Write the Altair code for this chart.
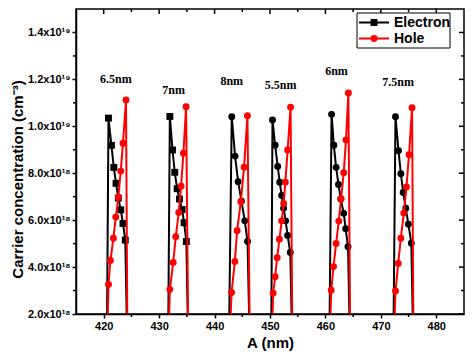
import altair as alt
import pandas as pd

# ---- data (concentration in units of 1e18 cm^-3, position in nm) ----
groups = ["6.5nm", "7nm", "8nm", "5.5nm", "6nm", "7.5nm"]
label_x = [422.2, 432.6, 443.1, 451.9, 462.0, 473.1]
label_y = [12.0, 11.55, 11.93, 11.77, 12.36, 11.87]
edge_left = [420.55, 431.6, 442.55, 450.2, 460.68, 472.23]
edge_right = [424.3, 435.3, 446.4, 454.07, 464.5, 475.9]
edge_value = 0.0
electron_marker = ["square", "square", "circle", "circle", "circle", "circle"]

electron_x = [
    [420.86, 421.39, 421.82, 422.23, 422.64, 423.07, 423.48, 423.89],
    [431.93, 432.41, 432.82, 433.25, 433.66, 434.14, 434.5, 434.91],
    [443.1, 443.7, 444.25, 444.85, 445.45, 445.95],
    [450.45, 450.93, 451.39, 451.75, 452.11, 452.46, 452.82, 453.18, 453.66],
    [461.11, 461.52, 461.93, 462.36, 462.77, 463.3, 463.66, 464.07],
    [472.64, 473.18, 473.61, 474.02, 474.5, 474.96, 475.5],
]
electron_y = [
    [10.35, 9.19, 8.25, 7.57, 6.94, 6.44, 5.86, 5.15],
    [10.42, 8.99, 8.04, 7.34, 6.90, 6.45, 5.89, 5.09],
    [10.41, 8.73, 7.64, 6.81, 5.97, 5.09],
    [10.27, 9.19, 8.29, 7.62, 7.05, 6.51, 5.97, 5.35, 4.62],
    [10.51, 9.19, 8.25, 7.52, 6.90, 6.29, 5.63, 4.87],
    [10.41, 8.96, 7.98, 7.18, 6.51, 5.83, 5.02],
]
hole_x = [
    [420.86, 421.21, 421.75, 422.18, 422.64, 423.07, 423.48, 424.02],
    [431.93, 432.54, 433.0, 433.54, 433.96, 434.38, 434.86],
    [443.07, 443.66, 444.07, 444.73, 445.32, 445.93],
    [450.57, 450.93, 451.29, 451.70, 452.11, 452.46, 452.77, 453.18, 453.71],
    [461.04, 461.46, 461.93, 462.41, 462.82, 463.3, 463.71, 464.14],
    [472.64, 473.13, 473.61, 474.14, 474.61, 475.09, 475.63],
]
hole_y = [
    [3.26, 4.28, 5.23, 6.13, 6.98, 8.09, 9.28, 11.12],
    [3.05, 4.20, 5.29, 6.33, 7.45, 8.85, 10.83],
    [2.92, 4.24, 5.55, 6.78, 8.26, 10.45],
    [2.89, 3.59, 4.40, 5.19, 5.97, 6.71, 7.62, 8.99, 10.81],
    [3.01, 4.02, 5.01, 5.96, 6.91, 8.02, 9.42, 11.42],
    [2.98, 4.15, 5.23, 6.30, 7.41, 8.79, 10.79],
]

x_major = [420, 430, 440, 450, 460, 470, 480]
x_minor = [425, 435, 445, 455, 465, 475]
y_major = [2, 4, 6, 8, 10, 12, 14]
y_minor = [3, 5, 7, 9, 11, 13]
legend_labels = ["Electron", "Hole"]

# ---- build tables ----
rows = []
for gi, g in enumerate(groups):
    for series, xs_, ys_, mk in [("Electron", electron_x[gi], electron_y[gi], electron_marker[gi]),
                                 ("Hole", hole_x[gi], hole_y[gi], "circle")]:
        rows.append(dict(group=g, series=series, idx=0, x=edge_left[gi], y=edge_value, pt=False, marker=mk))
        for i, (xv, yv) in enumerate(zip(xs_, ys_)):
            rows.append(dict(group=g, series=series, idx=i + 1, x=xv, y=yv, pt=True, marker=mk))
        rows.append(dict(group=g, series=series, idx=len(xs_) + 1, x=edge_right[gi], y=edge_value, pt=False, marker=mk))
df = pd.DataFrame(rows)
labels_df = pd.DataFrame({"label": groups, "x": label_x, "y": label_y})

W, H = 388, 305
SANS = "Liberation Sans, Arial"
SERIF = "Liberation Serif, Times New Roman"
BLACK, RED = "#000000", "#ff0000"

xs = alt.Scale(domain=[415, 485], nice=False, zero=False)
ys = alt.Scale(domain=[2, 15], nice=False, zero=False)

x_axis = alt.Axis(values=x_major, title="A (nm)", labelFont=SANS, labelFontSize=11,
                  labelFontWeight="bold", tickSize=4, labelPadding=2,
                  titleFont=SANS, titleFontSize=15, titleFontWeight="bold",
                  titleY=28, titleBaseline="middle")
y_axis = alt.Axis(values=y_major, title="Carrier concentration (cm⁻³)",
                  labelExpr="datum.value < 10 ? format(datum.value, '.1f') + 'x10¹⁸' : format(datum.value / 10, '.1f') + 'x10¹⁹'",
                  labelFont=SANS, labelFontSize=11, labelFontWeight="bold", tickSize=4, labelPadding=2,
                  titleFont=SANS, titleFontSize=15, titleFontWeight="bold",
                  titleX=-59, titleY=170, titleBaseline="middle", titleAlign="center")


def X(field):
    return alt.X(field, scale=xs, axis=x_axis)


def Y(field):
    return alt.Y(field, scale=ys, axis=y_axis)


base = alt.Chart(df)


def line_layer(series, color):
    return base.transform_filter(alt.datum.series == series).mark_line(
        strokeWidth=2, clip=True, color=color).encode(
        x=X("x:Q"), y=Y("y:Q"), detail="group:N", order="idx:Q")


def point_layer(series, color):
    return base.transform_filter((alt.datum.series == series) & alt.datum.pt).mark_point(
        filled=True, opacity=1, size=48, color=color, clip=True).encode(
        x=X("x:Q"), y=Y("y:Q"),
        shape=alt.Shape("marker:N", scale=alt.Scale(domain=["square", "circle"], range=["square", "circle"]),
                        legend=None))


text_layer = alt.Chart(labels_df).mark_text(font=SERIF, fontSize=12, fontWeight="bold", color="black").encode(
    x=X("x:Q"), y=Y("y:Q"), text="label:N")

# minor / mirrored ticks
xmaj = pd.DataFrame({"x": x_major})
xmin = pd.DataFrame({"x": x_minor})
ymaj = pd.DataFrame({"y": y_major})
ymin = pd.DataFrame({"y": y_minor})
tk = dict(color="black", strokeWidth=1.5)
ticks = [
    alt.Chart(xmin).mark_rule(**tk).encode(x=X("x:Q"), y=alt.value(H), y2=alt.value(H + 3)),
    alt.Chart(ymin).mark_rule(**tk).encode(y=Y("y:Q"), x=alt.value(-3), x2=alt.value(0)),
    alt.Chart(xmaj).mark_rule(**tk).encode(x=X("x:Q"), y=alt.value(0), y2=alt.value(5)),
    alt.Chart(xmin).mark_rule(**tk).encode(x=X("x:Q"), y=alt.value(0), y2=alt.value(3)),
    alt.Chart(ymaj).mark_rule(**tk).encode(y=Y("y:Q"), x=alt.value(W - 5), x2=alt.value(W)),
    alt.Chart(ymin).mark_rule(**tk).encode(y=Y("y:Q"), x=alt.value(W - 3), x2=alt.value(W)),
]

# legend (manual)
leg_df = pd.DataFrame({"label": legend_labels})
leg = [
    alt.Chart(leg_df).transform_filter(alt.datum.label == "Electron").mark_rect(
        fill="white", stroke="black", strokeWidth=1).encode(
        x=alt.value(281), x2=alt.value(374), y=alt.value(4), y2=alt.value(39)),
]
for lab, col, shp, yy in [("Electron", BLACK, "square", 13.5), ("Hole", RED, "circle", 29.5)]:
    sub = alt.Chart(leg_df).transform_filter(alt.datum.label == lab)
    leg.append(sub.mark_rule(color=col, strokeWidth=2).encode(x=alt.value(283), x2=alt.value(313), y=alt.value(yy)))
    leg.append(sub.mark_point(shape=shp, filled=True, opacity=1, color=col, size=48).encode(
        x=alt.value(298), y=alt.value(yy)))
    leg.append(sub.mark_text(align="left", baseline="middle", font=SANS, fontSize=14, fontWeight="bold",
                             color="black").encode(x=alt.value(318), y=alt.value(yy + 0.5), text="label:N"))

chart = alt.layer(
    line_layer("Electron", BLACK),
    point_layer("Electron", BLACK),
    line_layer("Hole", RED),
    point_layer("Hole", RED),
    text_layer,
    *ticks,
    *leg,
).properties(
    width=W, height=H,
    autosize=alt.AutoSizeParams(type="none"),
    padding={"left": 68, "top": 1, "right": 2, "bottom": 38},
    background="white",
).configure_axis(
    grid=False, domainColor="black", domainWidth=1.5, tickColor="black", tickWidth=1.5,
    labelColor="black", titleColor="black",
).configure_view(stroke="black", strokeWidth=1.5)

chart.save("out.html", embed_options={"renderer": "svg", "actions": False})
